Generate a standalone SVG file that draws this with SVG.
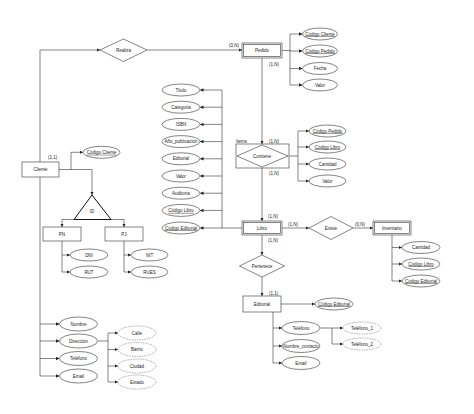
<svg xmlns="http://www.w3.org/2000/svg" width="474" height="414" viewBox="0 0 474 414">
<defs>
<marker id="ar" markerUnits="userSpaceOnUse" markerWidth="4" markerHeight="4" refX="3.5" refY="1.75" orient="auto">
<path d="M0,0 L3.5,1.75 L0,3.5 z" fill="#222"/>
</marker>
<style>
text{font-family:"Liberation Sans",Arial,sans-serif;font-size:4.5px;fill:#222;text-anchor:middle;dominant-baseline:central}
.l{text-anchor:start}
.u{text-decoration:underline}
.e{fill:#fff;stroke:#333;stroke-width:0.6}
.d{fill:#fff;stroke:#777;stroke-width:0.6;stroke-dasharray:1.5 1}
.b{fill:#fff;stroke:#333;stroke-width:0.6}
.c{fill:none;stroke:#333;stroke-width:0.6}
.a{fill:none;stroke:#333;stroke-width:0.6;marker-end:url(#ar)}
</style>
</defs>
<rect width="474" height="414" fill="#fff"/>
<g id="connectors">
<path class="c" d="M40,50 V376"/>
<path class="a" d="M40,50 H100"/>
<path class="a" d="M147,50 H242"/>
<path class="c" d="M282,50.5 H290 M290,34 V85"/>
<path class="a" d="M290,34 H302.5"/>
<path class="a" d="M290,51 H302.5"/>
<path class="a" d="M290,68.5 H302.5"/>
<path class="a" d="M290,85 H302.5"/>
<path class="a" d="M262,58 V144"/>
<path class="c" d="M289,156 H298 M298,131 V181"/>
<path class="a" d="M298,131 H309"/>
<path class="a" d="M298,147 H309"/>
<path class="a" d="M298,164 H309"/>
<path class="a" d="M298,181 H309"/>
<path class="a" d="M262,168 V221"/>
<path class="c" d="M242,228 H222 M222,90 V228"/>
<path class="a" d="M222,90 H200"/>
<path class="a" d="M222,107.2 H200"/>
<path class="a" d="M222,124.4 H200"/>
<path class="a" d="M222,141.6 H200"/>
<path class="a" d="M222,158.8 H200"/>
<path class="a" d="M222,176 H200"/>
<path class="a" d="M222,193.2 H200"/>
<path class="a" d="M222,210.4 H200"/>
<path class="a" d="M222,228 H200"/>
<path class="a" d="M282,228 H309"/>
<path class="a" d="M353,228 H373"/>
<path class="c" d="M392,235 V281"/>
<path class="a" d="M392,247.5 H402"/>
<path class="a" d="M392,264 H402"/>
<path class="a" d="M392,281 H402"/>
<path class="a" d="M262,235 V255"/>
<path class="a" d="M262,277 V296"/>
<path class="a" d="M281,304 H315"/>
<path class="c" d="M273,312 V363"/>
<path class="a" d="M273,328 H282"/>
<path class="a" d="M273,346 H282"/>
<path class="a" d="M273,363 H282"/>
<path class="c" d="M320,328 H332 V344"/>
<path class="a" d="M332,328 H343"/>
<path class="a" d="M332,344 H343"/>
<path class="c" d="M59,169.5 H92 M71,169.5 V152.3"/>
<path class="a" d="M71,152.3 H83"/>
<path class="a" d="M92,169.5 V195"/>
<path class="a" d="M74,219.5 H62 V227"/>
<path class="a" d="M111,219.5 H124 V227"/>
<path class="c" d="M62,241 V272 M124,241 V272"/>
<path class="a" d="M62,255 H70"/>
<path class="a" d="M62,272 H70"/>
<path class="a" d="M124,255 H131"/>
<path class="a" d="M124,272 H131"/>
<path class="a" d="M40,324 H59.5"/>
<path class="a" d="M40,341 H59.5"/>
<path class="a" d="M40,358.5 H59.5"/>
<path class="a" d="M40,376 H59.5"/>
<path class="c" d="M98,341 H108 M108,333 V382"/>
<path class="a" d="M108,333 H118"/>
<path class="a" d="M108,349.5 H118"/>
<path class="a" d="M108,366 H118"/>
<path class="a" d="M108,382 H118"/>
</g>
<g id="labels">
<text class="l" x="229" y="45.5">(0,N)</text>
<text class="l" x="269" y="64">(1,N)</text>
<text class="l" x="269" y="141">(1,N)</text>
<text class="l" x="269" y="173.5">(1,N)</text>
<text class="l" x="268" y="216.5">(1,N)</text>
<text class="l" x="288" y="224.5">(1,N)</text>
<text class="l" x="268" y="240">(1,N)</text>
<text class="l" x="355" y="224.5">(0,N)</text>
<text class="l" x="269" y="293">(1,1)</text>
<text class="l" x="48" y="157.5">(1,1)</text>
</g>
<g id="realiza"><polygon class="b" points="100,50 123.5,39 147,50 123.5,61.5"/><text x="123.5" y="50">Realiza</text></g>
<g id="pedido"><rect class="b" x="242" y="43" width="40" height="15"/><rect class="c" x="243.5" y="44.5" width="37" height="12"/><text x="262" y="50.5">Pedido</text></g>
<g id="pedido-codcliente"><ellipse class="e" cx="320" cy="34" rx="17.5" ry="6"/><text class="u" x="320" y="34">Código Cliente</text></g>
<g id="pedido-codpedido"><ellipse class="e" cx="320" cy="51" rx="17.5" ry="6"/><text class="u" x="320" y="51">Código Pedido</text></g>
<g id="pedido-fecha"><ellipse class="e" cx="320" cy="68.5" rx="17.5" ry="6"/><text x="320" y="68.5">Fecha</text></g>
<g id="pedido-valor"><ellipse class="e" cx="320" cy="85" rx="17.5" ry="6"/><text x="320" y="85">Valor</text></g>
<g id="contiene"><rect class="b" x="236" y="144" width="53" height="24"/><polygon class="c" points="237,156 262,145 288,156 262,167"/><text x="262" y="156">Contiene</text><text class="l" x="236" y="141.5">Items</text></g>
<g id="contiene-codpedido"><ellipse class="e" cx="327.5" cy="131" rx="18.5" ry="6"/><text class="u" x="327.5" y="131">Código Pedido</text></g>
<g id="contiene-codlibro"><ellipse class="e" cx="327.5" cy="147" rx="18.5" ry="6"/><text class="u" x="327.5" y="147">Código Libro</text></g>
<g id="contiene-cantidad"><ellipse class="e" cx="327.5" cy="164" rx="18.5" ry="6"/><text x="327.5" y="164">Cantidad</text></g>
<g id="contiene-valor"><ellipse class="e" cx="327.5" cy="181" rx="18.5" ry="6"/><text x="327.5" y="181">Valor</text></g>
<g id="libro"><rect class="b" x="242" y="221" width="40" height="14"/><rect class="c" x="243.5" y="222.5" width="37" height="11"/><text x="262" y="228">Libro</text></g>
<g id="libro-titulo"><ellipse class="e" cx="181" cy="90" rx="19" ry="6"/><text x="181" y="90">Titulo</text></g>
<g id="libro-categoria"><ellipse class="e" cx="181" cy="107.2" rx="19" ry="6"/><text x="181" y="107.2">Categoria</text></g>
<g id="libro-isbn"><ellipse class="e" cx="181" cy="124.4" rx="19" ry="6"/><text x="181" y="124.4">ISBN</text></g>
<g id="libro-anio"><ellipse class="e" cx="181" cy="141.6" rx="19" ry="6"/><text x="181" y="141.6">Año_publicación</text></g>
<g id="libro-editorial"><ellipse class="e" cx="181" cy="158.8" rx="19" ry="6"/><text x="181" y="158.8">Editorial</text></g>
<g id="libro-valor"><ellipse class="e" cx="181" cy="176" rx="19" ry="6"/><text x="181" y="176">Valor</text></g>
<g id="libro-auditoria"><ellipse class="e" cx="181" cy="193.2" rx="19" ry="6"/><text x="181" y="193.2">Auditoria</text></g>
<g id="libro-codlibro"><ellipse class="e" cx="181" cy="210.4" rx="19" ry="6"/><text class="u" x="181" y="210.4">Código Libro</text></g>
<g id="libro-codeditorial"><ellipse class="e" cx="181" cy="228" rx="19" ry="6"/><text class="u" x="181" y="228">Código Editorial</text></g>
<g id="existe"><polygon class="b" points="309,228 331,216.5 353,228 331,239.5"/><text x="331" y="228">Existe</text></g>
<g id="inventario"><rect class="b" x="373" y="221" width="38" height="14"/><rect class="c" x="374.5" y="222.5" width="35" height="11"/><text x="392" y="228">Inventario</text></g>
<g id="inv-cantidad"><ellipse class="e" cx="421" cy="247.5" rx="19" ry="6"/><text x="421" y="247.5">Cantidad</text></g>
<g id="inv-codlibro"><ellipse class="e" cx="421" cy="264" rx="19" ry="6"/><text class="u" x="421" y="264">Código Libro</text></g>
<g id="inv-codeditorial"><ellipse class="e" cx="421" cy="281" rx="19" ry="6"/><text class="u" x="421" y="281">Código Editorial</text></g>
<g id="pertenece"><polygon class="b" points="239.5,266 262,255 284.5,266 262,277"/><text x="262" y="266">Pertenece</text></g>
<g id="editorial"><rect class="b" x="243" y="296" width="38" height="16"/><text x="262" y="304">Editorial</text></g>
<g id="edit-codeditorial"><ellipse class="e" cx="334" cy="304" rx="19" ry="6"/><text class="u" x="334" y="304">Código Editorial</text></g>
<g id="edit-telefono"><ellipse class="e" cx="301" cy="328" rx="19" ry="6.5"/><text x="301" y="328">Teléfono</text></g>
<g id="edit-nombrecontacto"><ellipse class="e" cx="301" cy="346" rx="19" ry="6.5"/><text x="301" y="346">Nombre_contacto</text></g>
<g id="edit-email"><ellipse class="e" cx="301" cy="363" rx="19" ry="6.5"/><text x="301" y="363">Email</text></g>
<g id="edit-telefono1"><ellipse class="d" cx="362" cy="328" rx="19" ry="6"/><text x="362" y="328">Teléfono_1</text></g>
<g id="edit-telefono2"><ellipse class="d" cx="362" cy="344" rx="19" ry="6"/><text x="362" y="344">Teléfono_2</text></g>
<g id="cliente"><rect class="b" x="22" y="162" width="37" height="15"/><text x="40.5" y="169.5">Cliente</text></g>
<g id="cliente-codcliente"><ellipse class="e" cx="101.5" cy="152.3" rx="18.5" ry="6"/><text class="u" x="101.5" y="152.3">Código Cliente</text></g>
<g id="id"><polygon fill="#fff" stroke="#111" stroke-width="1" points="92,195 74,219.5 111,219.5"/><text x="92" y="211.5">ID</text></g>
<g id="pn"><rect class="b" x="43" y="227" width="38" height="14"/><text x="62" y="234">PN</text></g>
<g id="pj"><rect class="b" x="105" y="227" width="38" height="14"/><text x="124" y="234">PJ</text></g>
<g id="pn-dni"><ellipse class="e" cx="89" cy="255" rx="19" ry="6"/><text x="89" y="255">DNI</text></g>
<g id="pn-rut"><ellipse class="e" cx="89" cy="272" rx="19" ry="6"/><text x="89" y="272">RUT</text></g>
<g id="pj-nit"><ellipse class="e" cx="149.5" cy="255" rx="18.5" ry="6"/><text x="149.5" y="255">NIT</text></g>
<g id="pj-rues"><ellipse class="e" cx="149.5" cy="272" rx="18.5" ry="6"/><text x="149.5" y="272">RUES</text></g>
<g id="cliente-nombre"><ellipse class="e" cx="78.5" cy="324" rx="19" ry="7"/><text x="78.5" y="324">Nombre</text></g>
<g id="cliente-direccion"><ellipse class="e" cx="78.5" cy="341" rx="19" ry="7"/><text x="78.5" y="341">Dirección</text></g>
<g id="cliente-telefono"><ellipse class="e" cx="78.5" cy="358.5" rx="19" ry="7"/><text x="78.5" y="358.5">Teléfono</text></g>
<g id="cliente-email"><ellipse class="e" cx="78.5" cy="376" rx="19" ry="7"/><text x="78.5" y="376">Email</text></g>
<g id="dir-calle"><ellipse class="d" cx="137" cy="333" rx="19" ry="7"/><text x="137" y="333">Calle</text></g>
<g id="dir-barrio"><ellipse class="d" cx="137" cy="349.5" rx="19" ry="7"/><text x="137" y="349.5">Barrio</text></g>
<g id="dir-ciudad"><ellipse class="d" cx="137" cy="366" rx="19" ry="7"/><text x="137" y="366">Ciudad</text></g>
<g id="dir-estado"><ellipse class="d" cx="137" cy="382" rx="19" ry="7"/><text x="137" y="382">Estado</text></g>
</svg>
